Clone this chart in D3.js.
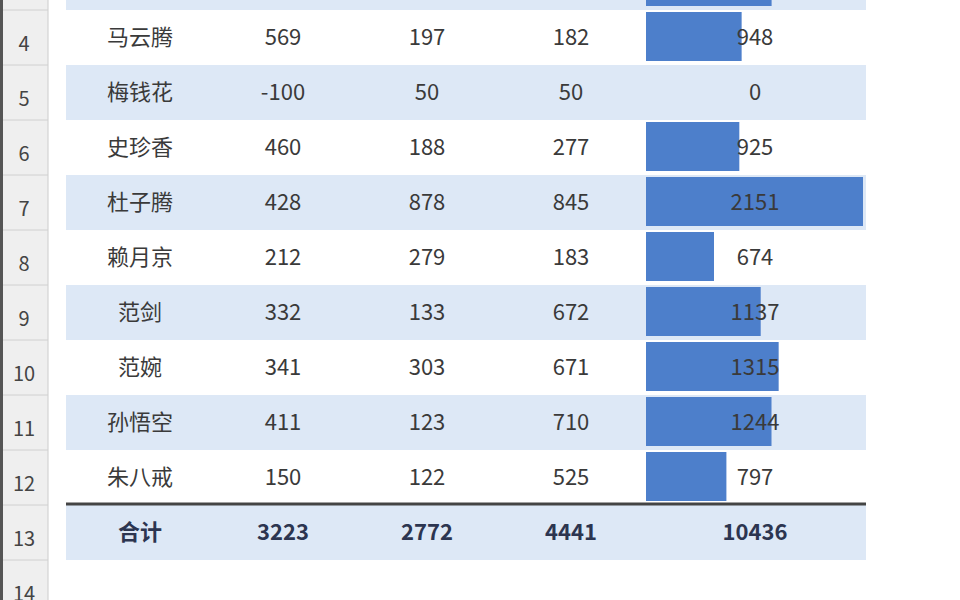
<!DOCTYPE html>
<html><head><meta charset="utf-8">
<script src="https://cdn.jsdelivr.net/npm/d3@7"></script>
<style>body{margin:0;background:#fff;overflow:hidden}</style>
</head><body><div id="chart"></div>
<script>
var rowNums = [3, 4, 5, 6, 7, 8, 9, 10, 11, 12];
var names = ["唐三藏", "马云腾", "梅钱花", "史珍香", "杜子腾", "赖月京", "范剑", "范婉", "孙悟空", "朱八戒"];
var col1 = [420, 569, -100, 460, 428, 212, 332, 341, 411, 150];
var col2 = [499, 197, 50, 188, 878, 279, 133, 303, 123, 122];
var col3 = [326, 182, 50, 277, 845, 183, 672, 671, 710, 525];
var totals = [1245, 948, 0, 925, 2151, 674, 1137, 1315, 1244, 797];
var sumRow = ["合计", 3223, 2772, 4441, 10436];

var width = 960, height = 600, rowH = 55;
var font = "'Noto Sans CJK SC', 'Noto Sans', sans-serif";

var svg = d3.select("#chart").append("svg").attr("width", width).attr("height", height);

// rows 3..14, row 4 starts at y=10
var y = d3.scaleLinear().domain([4, 5]).range([10, 10 + rowH]);
var x = d3.scaleLinear().domain([0, 2151]).range([646, 863]);
var colX = [140, 283, 427, 571, 755];

// row header column
svg.append("rect").attr("x", 0).attr("y", 0).attr("width", 48).attr("height", height).attr("fill", "#efefef");
svg.append("rect").attr("x", 0).attr("y", 0).attr("width", 3).attr("height", height).attr("fill", "#555");
svg.append("line").attr("x1", 48).attr("x2", 48).attr("y1", 0).attr("y2", height).attr("stroke", "#ccc");
var allRows = d3.range(3, 15);
svg.selectAll(".rl").data(allRows).enter().append("line")
    .attr("x1", 3).attr("x2", 48)
    .attr("y1", d => y(d + 1)).attr("y2", d => y(d + 1))
    .attr("stroke", "#d0d0d0");
svg.selectAll(".rn").data(allRows).enter().append("text")
    .attr("x", 24).attr("y", d => y(d) + rowH * 0.62)
    .attr("text-anchor", "middle").attr("dy", "0.35em")
    .attr("font-family", font).attr("font-size", 20).attr("fill", "#444")
    .text(d => d);

// shaded rows
var shaded = rowNums.filter(r => r % 2 === 1).concat([13]);
svg.selectAll(".sh").data(shaded).enter().append("rect")
    .attr("x", 66).attr("width", 800)
    .attr("y", d => y(d)).attr("height", rowH)
    .attr("fill", "#dde8f6");

// data bars
svg.selectAll(".bar").data(totals).enter().append("rect")
    .attr("x", x(0))
    .attr("y", (d, i) => y(rowNums[i]) + 2)
    .attr("height", rowH - 6)
    .attr("width", d => x(d) - x(0))
    .attr("fill", "#4d7fcb");

// cell text
var rows = names.map((n, i) => [n, col1[i], col2[i], col3[i], totals[i]]);
rows.forEach(function (r, i) {
    svg.selectAll(null).data(r).enter().append("text")
        .attr("x", (d, j) => colX[j])
        .attr("y", y(rowNums[i]) + rowH / 2)
        .attr("dy", "0.35em").attr("text-anchor", "middle")
        .attr("font-family", font).attr("font-size", 22).attr("fill", "#3a3a3a")
        .text(d => d);
});

// total row
svg.append("line").attr("x1", 66).attr("x2", 866).attr("y1", y(13) - 1).attr("y2", y(13) - 1)
    .attr("stroke", "#444").attr("stroke-width", 3);
svg.selectAll(".tot").data(sumRow).enter().append("text")
    .attr("x", (d, j) => colX[j]).attr("y", y(13) + rowH / 2)
    .attr("dy", "0.35em").attr("text-anchor", "middle")
    .attr("font-family", font).attr("font-size", 22).attr("font-weight", "bold").attr("fill", "#2c3550")
    .text(d => d);
</script>
</body></html>
